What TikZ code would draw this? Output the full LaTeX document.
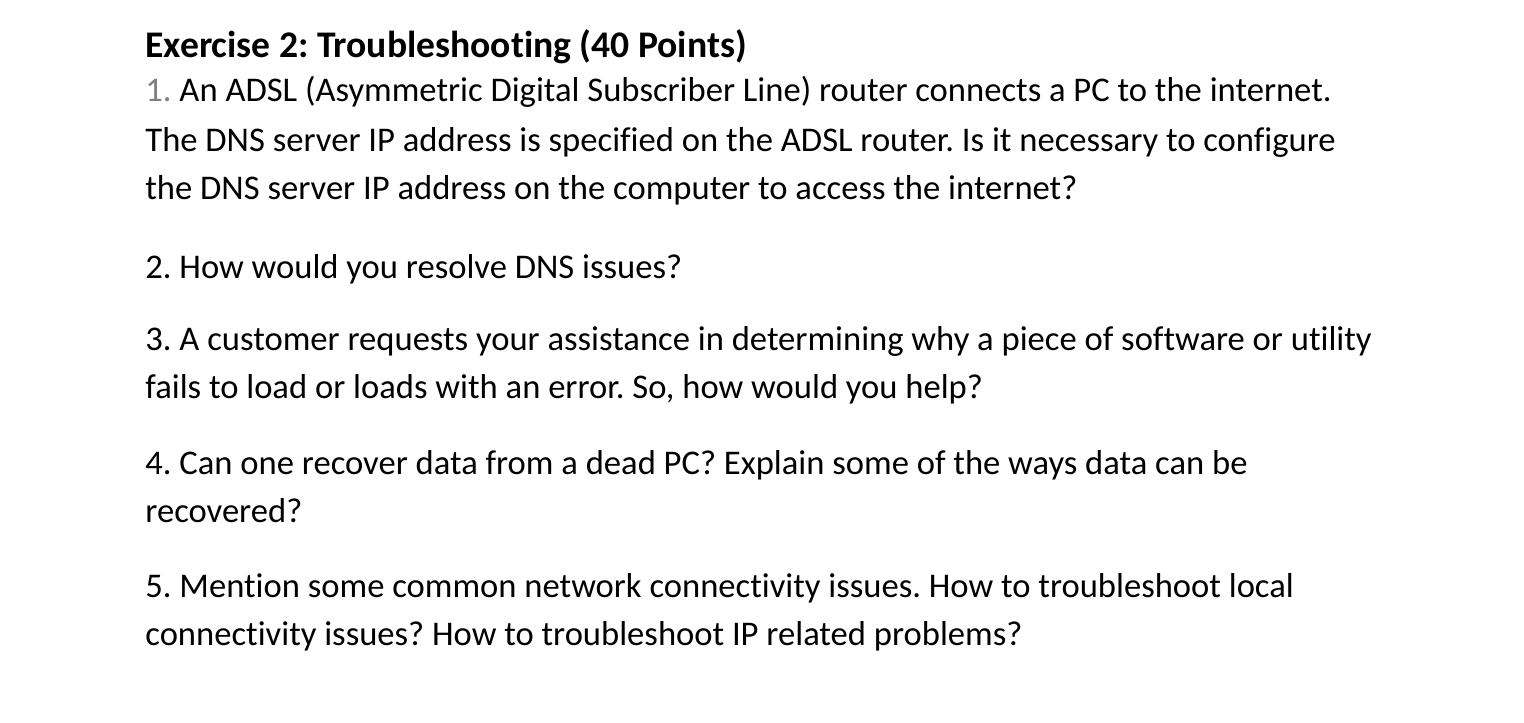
\documentclass[tikz,border=0pt]{standalone}
\usepackage{fontspec}
\setmainfont[Ligatures=CommonOff]{Carlito}
\frenchspacing
\begin{document}
\begin{tikzpicture}[x=0.5pt,y=-0.5pt,
  txt/.style={anchor=base west,inner sep=0pt,font=\fontsize{17.3pt}{20pt}\selectfont},
  ttl/.style={anchor=base west,inner sep=0pt,font=\fontsize{18.8pt}{22pt}\selectfont\bfseries}]
\useasboundingbox (0,0) rectangle (1524,722);
\node[ttl] (t) at (145,58) {Exercise 2: Troubleshooting (40 Points)};
\node[txt] (l1) at (145,102) {\textcolor{gray}{1.} An ADSL (Asymmetric Digital Subscriber Line) router connects a PC to the internet.};
\node[txt] (l2) at (145,151) {The DNS server IP address is specified on the ADSL router. Is it necessary to configure};
\node[txt] (l3) at (145,199) {the DNS server IP address on the computer to access the internet?};
\node[txt] (l4) at (145,278) {2. How would you resolve DNS issues?};
\node[txt] (l5) at (145,350) {3. A customer requests your assistance in determining why a piece of software or utility};
\node[txt] (l6) at (145,398) {fails to load or loads with an error. So, how would you help?};
\node[txt] (l7) at (145,474) {4. Can one recover data from a dead PC? Explain some of the ways data can be};
\node[txt] (l8) at (145,522) {recovered?};
\node[txt] (l9) at (145,597) {5. Mention some common network connectivity issues. How to troubleshoot local};
\node[txt] (l10) at (145,645) {connectivity issues? How to troubleshoot IP related problems?};
\end{tikzpicture}
\end{document}
